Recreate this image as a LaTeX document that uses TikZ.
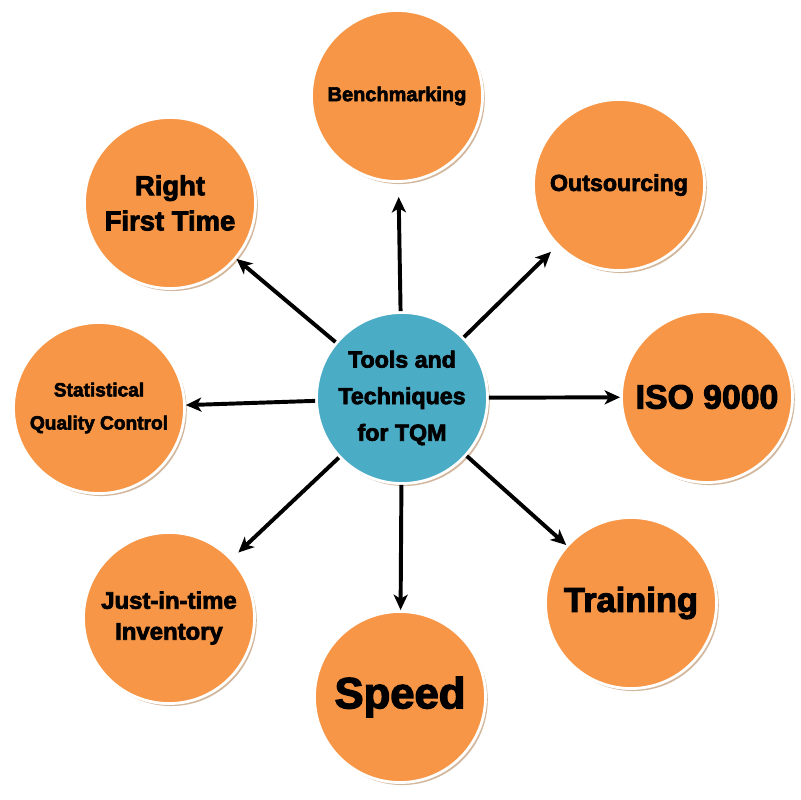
\documentclass[tikz,border=0pt]{standalone}
\usepackage{fontspec}
\setmainfont{Liberation Sans}[BoldFeatures={FakeBold=3}]
\usepackage{tikz}
\usetikzlibrary{arrows.meta}
\usetikzlibrary{shadows}
\definecolor{tqmOrange}{HTML}{F79646}
\definecolor{tqmBlue}{HTML}{4BACC6}
\definecolor{tqmShadow}{HTML}{C8A584}
\newcommand{\tqmfs}[2]{\bfseries\fontsize{#1}{#2}\selectfont}

\begin{document}
\begin{tikzpicture}[x=0.025cm, y=-0.025cm]
               \tikzstyle{myCir}=[circle, draw=white, line width=2pt, minimum size=4.275cm,
                        inner sep=0pt, align=center, text=black,
                        drop shadow={shadow xshift=1.6pt, shadow yshift=-1.8pt, fill=tqmShadow, opacity=0.8}]
               \tikzstyle{topicCir}=[myCir, fill=tqmOrange]
               \tikzstyle{hubCir}=[myCir, fill=tqmBlue]
               \tikzstyle{myArr}=[line width=2.8pt, -{Stealth[length=11pt, width=10pt, inset=3pt]}]

               \useasboundingbox (0,0) rectangle (800,800);

               \node[hubCir, font=\tqmfs{16.5}{26}] (tqm) at (402,398) {Tools and\\Techniques\\for TQM};

               \node[topicCir, font=\tqmfs{14.2}{20}] (bench) at (397,96) {Benchmarking};
               \node[topicCir, font=\tqmfs{16.5}{20}] (outs) at (619,185) {Outsourcing};
               \node[topicCir, font=\tqmfs{24}{28}] (iso) at (707,397) {ISO 9000};
               \node[topicCir, font=\tqmfs{24.5}{28}] (train) at (631,603) {Training};
               \node[topicCir, font=\tqmfs{31}{34}] (speed) at (400,697) {Speed};
               \node[topicCir, font=\tqmfs{17}{22}] (jit) at (169,618) {Just-in-time\\Inventory};
               \node[topicCir, font=\tqmfs{13.6}{23.5}] (sqc) at (99,408) {Statistical\\Quality Control};
               \node[topicCir, font=\tqmfs{19.5}{25}] (rft) at (170,203) {Right\\First Time};

               \draw[myArr, shorten >=10pt] (tqm) -- (bench);
               \draw[myArr, shorten >=6pt] (tqm) -- (outs);
               \draw[myArr] (tqm) -- (iso);
               \draw[myArr] (tqm) -- (train);
               \draw[myArr] (tqm) -- (speed);
               \draw[myArr, shorten >=6pt] (tqm) -- (jit);
               \draw[myArr] (tqm) -- (sqc);
               \draw[myArr] (tqm) -- (rft);
            \end{tikzpicture}
\end{document}
